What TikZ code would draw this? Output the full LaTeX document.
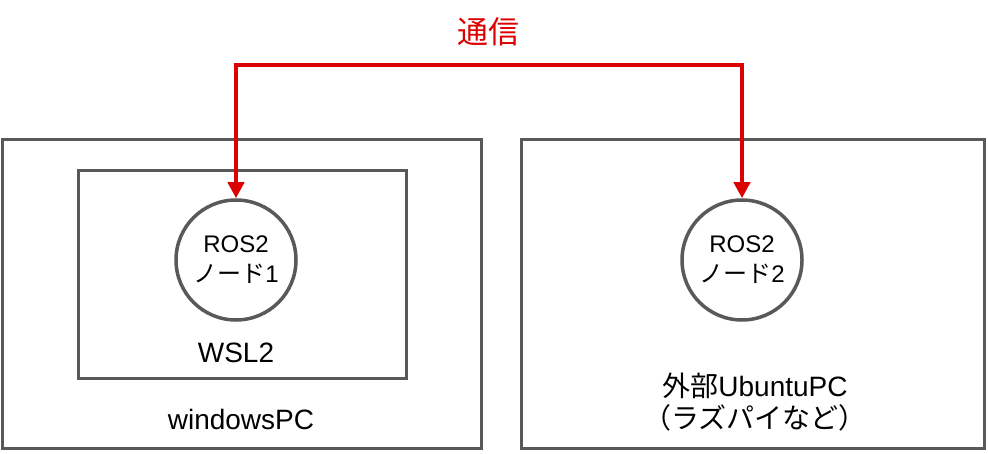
\documentclass[tikz,border=0pt]{standalone}
\usepackage{fontspec}
\setmainfont{Liberation Sans}
\newfontfamily\jp{Noto Sans CJK JP}
\usetikzlibrary{arrows.meta}

\definecolor{framegray}{RGB}{89,89,89}
\definecolor{linkred}{RGB}{221,0,0}

\begin{document}
\begin{tikzpicture}[x=1pt, y=-1pt,
	frame/.style={rectangle, draw=framegray, line width=3pt, inner sep=0pt},
	rosnode/.style={circle, draw=framegray, line width=3.5pt, minimum size=120pt, inner sep=0pt, align=center, font=\fontsize{24}{30}\selectfont},
	label/.style={align=center, font=\fontsize{28}{32}\selectfont},
	link/.style={{Triangle[length=16pt,width=16pt]}-{Triangle[length=16pt,width=16pt]}, draw=linkred, line width=4.5pt}]

		\useasboundingbox (0,0) rectangle (988,454);

		% machines
		\node[frame, minimum width=479pt, minimum height=308pt] (win) at (241.5,294) {};
		\node[frame, minimum width=328pt, minimum height=207pt] (wsl) at (242,274.5) {};
		\node[frame, minimum width=463pt, minimum height=308pt] (ubuntu) at (752.5,294) {};

		% ROS2 nodes
		\node[rosnode] (n1) at (236,260) {ROS2\\{\jp ノード}1};
		\node[rosnode] (n2) at (742,260) {ROS2\\{\jp ノード}2};

		\node[label] (wsllabel) at (236,353) {WSL2};
		\node[label] (winlabel) at (241,419) {windowsPC};
		\node[label] (ubuntulabel) at (755,402) {{\jp 外部}UbuntuPC\\{\jp （ラズパイなど）}};

		% communication
		\coordinate (bar) at (488,65);
		\draw[link] (n1.north) -- (n1.north |- bar) -- (n2.north |- bar) -- (n2.north);
		\node[text=linkred, font=\fontsize{31}{36}\selectfont\jp] (comm) at (488,32) {通信};

\end{tikzpicture}
\end{document}
